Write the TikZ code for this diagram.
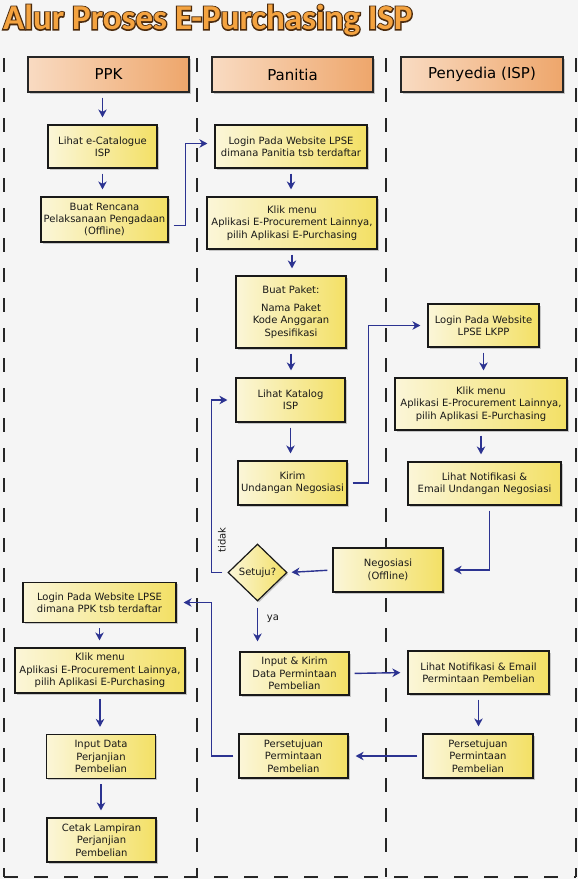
\documentclass[tikz,border=0pt]{standalone}
\usepackage{fontspec}
\setmainfont{DejaVu Sans}
\newfontfamily\titlefont{Carlito}[UprightFont={* Bold}]
\newfontfamily\titleedge{Carlito}[UprightFont={* Bold}, FakeBold=7]
\usetikzlibrary{arrows.meta,positioning,shapes.geometric,shadows}
\definecolor{paper}{HTML}{F5F5F5}
\definecolor{peach}{HTML}{F9DBC2}
\definecolor{tangerine}{HTML}{EEA66B}
\definecolor{cream}{HTML}{FBF6D8}
\definecolor{butter}{HTML}{F3E065}
\definecolor{flowblue}{HTML}{2C3391}
\definecolor{titlefill}{HTML}{F4A340}
\definecolor{titleline}{HTML}{4A2A0E}

\begin{document}
\begin{tikzpicture}[x=1pt, y=-1pt, >={Stealth[length=8pt, width=8.5pt, inset=2.5pt]},
        lanehead/.style={draw=black!85, line width=1.2pt, left color=peach, right color=tangerine,
          minimum width=161pt, minimum height=35pt, font=\fontsize{15}{18}\selectfont,
          drop shadow={shadow xshift=1.5pt, shadow yshift=-1.5pt, opacity=.4}},
        box/.style={draw=black!90, line width=1.2pt, left color=cream, right color=butter,
          minimum width=109pt, minimum height=44pt, inner sep=2pt, align=center,
          font=\fontsize{10}{12.3}\selectfont, text=black!90,
          drop shadow={shadow xshift=1.5pt, shadow yshift=-1.5pt, opacity=.4}},
        decision/.style={box, diamond, minimum width=59pt, minimum height=57pt, inner sep=0pt},
        flow/.style={->, draw=flowblue, line width=1.4pt, shorten <=5pt, shorten >=7pt},
        lane/.style={black!85, line width=2pt, dash pattern=on 14pt off 16pt},
        lbl/.style={font=\fontsize{10}{12}\selectfont, text=black!90}]
      \useasboundingbox (0,0) rectangle (578,879);
      \fill[paper] (0,0) rectangle (578,879);

      \node[anchor=base west, inner sep=0pt, text=titleline, font=\titleedge\fontsize{35}{40}\selectfont]
        (titleback) at (3,29.5) {Alur Proses E-Purchasing ISP};
      \node[anchor=base west, inner sep=0pt, text=titlefill, font=\titlefont\fontsize{35}{40}\selectfont]
        (title) at (3,29.5) {Alur Proses E-Purchasing ISP};

      \foreach \x in {4,197,386,576}
        \draw[lane] (\x,58) -- (\x,877);
      \draw[lane] (4,877) -- (576,877);

      \node[lanehead] (hppk) at (108.5,74.5) {PPK};
      \node[lanehead] (hpan) at (292.5,74.5) {Panitia};
      \node[lanehead, minimum width=162pt] (hpen) at (482,74.5) {Penyedia (ISP)};

      \node[box, minimum height=43pt] (catalog) at (102.5,146.5) {Lihat e-Catalogue\\ISP};
      \node[box, minimum width=127pt, minimum height=45pt] (rencana) at (104.5,219.5) {Buat Rencana\\Pelaksanaan Pengadaan\\(Offline)};
      \node[box, minimum width=153pt, minimum height=40pt] (loginppk) at (99.5,602.5) {Login Pada Website LPSE\\dimana PPK tsb terdaftar};
      \node[box, minimum width=170pt, minimum height=45pt] (klikppk) at (100,670.5) {Klik menu\\Aplikasi E-Procurement Lainnya,\\pilih Aplikasi E-Purchasing};
      \node[box] (inputppk) at (101,756.5) {Input Data\\Perjanjian\\Pembelian};
      \node[box] (cetak) at (101.5,840) {Cetak Lampiran\\Perjanjian\\Pembelian};

      \node[box, minimum width=152pt, minimum height=43pt] (loginpan) at (291,146.5) {Login Pada Website LPSE\\dimana Panitia tsb terdaftar};
      \node[box, minimum width=170pt, minimum height=52pt] (klikpan) at (292,223) {Klik menu\\Aplikasi E-Procurement Lainnya,\\pilih Aplikasi E-Purchasing};
      \node[box, minimum width=110pt, minimum height=72pt] (paket) at (291,312) {Buat Paket:\\[6pt]Nama Paket\\Kode Anggaran\\Spesifikasi};
      \node[box] (katalog) at (290.5,400) {Lihat Katalog\\ISP};
      \node[box] (kirim) at (292.5,483) {Kirim\\Undangan Negosiasi};
      \node[decision] (setuju) at (257.5,572.5) {Setuju?};
      \node[box, minimum height=43pt] (inputpan) at (294.5,673.5) {Input \& Kirim\\Data Permintaan\\Pembelian};
      \node[box] (perpan) at (293.5,756) {Persetujuan\\Permintaan\\Pembelian};

      \node[box, minimum width=111pt, minimum height=43pt] (lkpp) at (483.5,325.5) {Login Pada Website\\LPSE LKPP};
      \node[box, minimum width=172pt, minimum height=52pt] (klikpen) at (481,404) {Klik menu\\Aplikasi E-Procurement Lainnya,\\pilih Aplikasi E-Purchasing};
      \node[box, minimum width=153pt, minimum height=43pt] (notifund) at (484.5,483.5) {Lihat Notifikasi \&\\Email Undangan Negosiasi};
      \node[box, minimum width=110pt] (nego) at (388,570) {Negosiasi\\(Offline)};
      \node[box, minimum width=141pt, minimum height=43pt] (notifbeli) at (478.5,672.5) {Lihat Notifikasi \& Email\\Permintaan Pembelian};
      \node[box, minimum width=110pt] (perpen) at (478,756) {Persetujuan\\Permintaan\\Pembelian};

      \draw[flow] (hppk.south -| catalog.north) -- (catalog.north);
      \draw[flow] (catalog.south) -- (catalog.south |- rencana.north);
      \draw[flow] ([yshift=-6pt]rencana.east) -- ++(17,0) |- ([yshift=3pt]loginpan.west);
      \draw[flow] (loginpan.south) -- (loginpan.south |- klikpan.north);
      \draw[flow] (klikpan.south) -- (klikpan.south |- paket.north);
      \draw[flow] (paket.south) -- (paket.south |- katalog.north);
      \draw[flow] (katalog.south) -- (katalog.south |- kirim.north);
      \draw[flow] (kirim.east) -- ++(21,0) |- (lkpp.west);
      \draw[flow] (lkpp.south) -- (lkpp.south |- klikpen.north);
      \draw[flow] (klikpen.south) -- (klikpen.south |- notifund.north);
      \draw[flow, shorten >=10pt] ([xshift=5pt]notifund.south) |- (nego.east);
      \draw[flow, shorten >=4pt] (nego.west) -- (setuju.east);
      \draw[flow, shorten >=8pt] (setuju.west) -- ++(-16,0) |- (katalog.west);
      \node[lbl, rotate=90] (tidak) at (222,540) {tidak};
      \draw[flow, shorten <=6pt, shorten >=10pt] (setuju.south) -- (setuju.south |- inputpan.north);
      \node[lbl] (ya) at (273,619) {ya};
      \draw[flow] (inputpan.east) -- (notifbeli.west);
      \draw[flow] (notifbeli.south) -- (notifbeli.south |- perpen.north);
      \draw[flow] (perpen.west) -- (perpan.east);
      \draw[flow] (perpan.west) -- ++(-27,0) |- (loginppk.east);
      \draw[flow] (loginppk.south) -- (loginppk.south |- klikppk.north);
      \draw[flow] (klikppk.south) -- (klikppk.south |- inputppk.north);
      \draw[flow] (inputppk.south) -- (inputppk.south |- cetak.north);
    \end{tikzpicture}
\end{document}
